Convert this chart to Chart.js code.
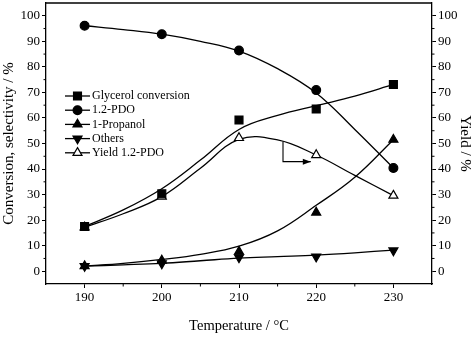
<!DOCTYPE html>
<html>
<head>
<meta charset="utf-8">
<script src="https://cdn.jsdelivr.net/npm/chart.js@4"></script>
<style>
html, body { margin: 0; padding: 0; background: #fff; }
#wrap { width: 474px; height: 337px; }
</style>
</head>
<body>
<div id="wrap"><canvas id="myChart"></canvas></div>
<script>
// measured points
const temps = [190, 200, 210, 220, 230];
const conversion = [17.5, 30.3, 59.2, 63.5, 73.1];
const pdo = [96.1, 92.8, 86.4, 70.9, 40.4];
const propanol = [2, 4.2, 7.7, 23, 51.5];
const others = [2, 3, 5.4, 5.7, 8.1];
const yieldPdo = [17.2, 29.2, 52.2, 45.5, 29.6];

// fitted curves, every 5 degC
const curveTemps = [190, 195, 200, 205, 210, 215, 220, 225, 230];
const conversionFit = [17.5, 24, 32.3, 43.5, 55.5, 61, 64.8, 68.5, 73.1];
const pdoFit = [96.1, 94.6, 92.8, 90, 86.2, 79.3, 69.8, 55.5, 40.4];
const propanolFit = [2, 3.1, 4.6, 6.6, 9.8, 15.8, 25.8, 36.8, 51.5];
const othersFit = [2, 2.5, 3.1, 4.1, 5.1, 5.7, 6.3, 7.2, 8.3];
const yieldFit = [17.2, 22.5, 29.2, 40.3, 51.6, 51.4, 45.5, 37.5, 29.6];

const xTicks = [190, 200, 210, 220, 230];
const xMinor = [195, 205, 215, 225];
const yTicks = [0, 10, 20, 30, 40, 50, 60, 70, 80, 90, 100];
const yMinor = [5, 15, 25, 35, 45, 55, 65, 75, 85, 95];

const labels = ['Glycerol conversion', '1.2-PDO', '1-Propanol', 'Others', 'Yield 1.2-PDO'];

// arrow pointing the yield curve to the right axis (data units)
const arrowPath = [[215.7, 50.8], [215.7, 42.9], [219.3, 42.9]];

const serif = 'Liberation Serif';
const markerStyles = [
    {pointStyle: 'rect', radius: 5.6, rotation: 0, fill: '#000'},
    {pointStyle: 'circle', radius: 4.4, rotation: 0, fill: '#000'},
    {pointStyle: 'triangle', radius: 5.2, rotation: 0, fill: '#000'},
    {pointStyle: 'triangle', radius: 5.2, rotation: 180, fill: '#000'},
    {pointStyle: 'triangle', radius: 5.2, rotation: 0, fill: '#fff'}
];
const series = [conversion, pdo, propanol, others, yieldPdo];
const fits = [conversionFit, pdoFit, propanolFit, othersFit, yieldFit];

const toXY = (xs, ys) => xs.map((x, i) => ({x: x, y: ys[i]}));

const datasets = [];
series.forEach((s, i) => {
    const m = markerStyles[i];
    datasets.push({
        label: labels[i],
        data: toXY(temps, s),
        showLine: false,
        pointStyle: m.pointStyle,
        pointRadius: m.radius,
        pointRotation: m.rotation,
        pointBackgroundColor: m.fill,
        pointBorderColor: '#000',
        pointBorderWidth: 1.2,
        yAxisID: i === 4 ? 'y1' : 'y',
        order: 0
    });
});
fits.forEach((f, i) => {
    datasets.push({
        label: labels[i] + ' fit',
        data: toXY(curveTemps, f),
        borderColor: '#000',
        borderWidth: 1.3,
        pointRadius: 0,
        tension: 0.4,
        fill: false,
        yAxisID: i === 4 ? 'y1' : 'y',
        order: 1
    });
});

function drawMarker(ctx, m, x, y) {
    Chart.helpers.drawPoint(ctx, {
        pointStyle: m.pointStyle, radius: m.radius, rotation: m.rotation, borderWidth: 1.2
    }, x, y);
}

const extras = {
    id: 'extras',
    afterDraw(chart) {
        const c = chart.ctx;
        const a = chart.chartArea;
        const xs = chart.scales.x, ys = chart.scales.y, y1 = chart.scales.y1;
        c.save();
        c.strokeStyle = '#000';
        c.lineWidth = 1.3;
        // top frame line
        c.beginPath();
        c.moveTo(a.left, a.top);
        c.lineTo(a.right, a.top);
        c.stroke();
        // minor ticks
        c.lineWidth = 1;
        c.beginPath();
        xMinor.forEach(v => {
            const px = xs.getPixelForValue(v);
            c.moveTo(px, a.bottom); c.lineTo(px, a.bottom + 2.5);
        });
        yMinor.forEach(v => {
            const py = ys.getPixelForValue(v);
            c.moveTo(a.left, py); c.lineTo(a.left - 2.5, py);
            c.moveTo(a.right, py); c.lineTo(a.right + 2.5, py);
        });
        c.stroke();
        // arrow
        c.lineWidth = 1.1;
        c.beginPath();
        arrowPath.forEach((p, i) => {
            const px = xs.getPixelForValue(p[0]), py = y1.getPixelForValue(p[1]);
            if (i === 0) c.moveTo(px, py); else c.lineTo(px, py);
        });
        c.stroke();
        const tip = arrowPath[arrowPath.length - 1];
        const tx = xs.getPixelForValue(tip[0]), ty = y1.getPixelForValue(tip[1]);
        c.fillStyle = '#000';
        c.beginPath();
        c.moveTo(tx, ty);
        c.lineTo(tx - 8, ty - 3);
        c.lineTo(tx - 8, ty + 3);
        c.closePath();
        c.fill();
        // legend
        c.font = '12px "' + serif + '"';
        c.textBaseline = 'middle';
        c.textAlign = 'left';
        labels.forEach((t, i) => {
            const ly = a.top + 93 + i * 14.2;
            const lx = a.left + 19;
            c.strokeStyle = '#000';
            c.lineWidth = 1.3;
            c.beginPath();
            c.moveTo(lx, ly); c.lineTo(lx + 25, ly);
            c.stroke();
            c.fillStyle = markerStyles[i].fill;
            c.strokeStyle = '#000';
            c.lineWidth = 1.2;
            drawMarker(c, markerStyles[i], lx + 12.5, ly);
            c.fillStyle = '#000';
            c.fillText(t, lx + 27, ly);
        });
        c.restore();
    }
};

const tickFont = {family: serif, size: 13};
const titleFont = {family: serif, size: 15};

const noPad = s => { s.paddingTop = 0; s.paddingBottom = 0; s.paddingLeft = 0; s.paddingRight = 0; };

const yAxis = (pos, title) => ({
    type: 'linear',
    position: pos,
    min: -5,
    max: 105,
    afterBuildTicks: s => { s.ticks = yTicks.map(v => ({value: v})); },
    afterFit: s => { s.width = pos === 'left' ? 46 : 42; noPad(s); },
    grid: {drawOnChartArea: false, tickLength: 4, tickColor: '#000', tickWidth: 1},
    border: {color: '#000', width: 1.3},
    ticks: {font: tickFont, color: '#000', padding: 2},
    title: {display: true, text: title, font: titleFont, color: '#000', padding: 0}
});

const myChart = new Chart(document.getElementById('myChart').getContext('2d'), {
    type: 'line',
    data: {datasets: datasets},
    plugins: [extras],
    options: {
        responsive: true,
        maintainAspectRatio: false,
        animation: false,
        layout: {autoPadding: false, padding: {top: 3, left: 0, right: 0, bottom: 0}},
        plugins: {legend: {display: false}, tooltip: {enabled: false}},
        scales: {
            x: {
                type: 'linear',
                min: 185,
                max: 235,
                afterBuildTicks: s => { s.ticks = xTicks.map(v => ({value: v})); },
                afterFit: s => { s.height = 53; noPad(s); },
                grid: {drawOnChartArea: false, tickLength: 4, tickColor: '#000', tickWidth: 1},
                border: {color: '#000', width: 1.3},
                ticks: {font: tickFont, color: '#000', padding: 2},
                title: {display: true, text: 'Temperature / °C', font: {family: serif, size: 14.5}, color: '#000', padding: {top: 4, bottom: 2}}
            },
            y: yAxis('left', 'Conversion, selectivity / %'),
            y1: yAxis('right', 'Yield / %')
        }
    }
});
</script>
</body>
</html>
